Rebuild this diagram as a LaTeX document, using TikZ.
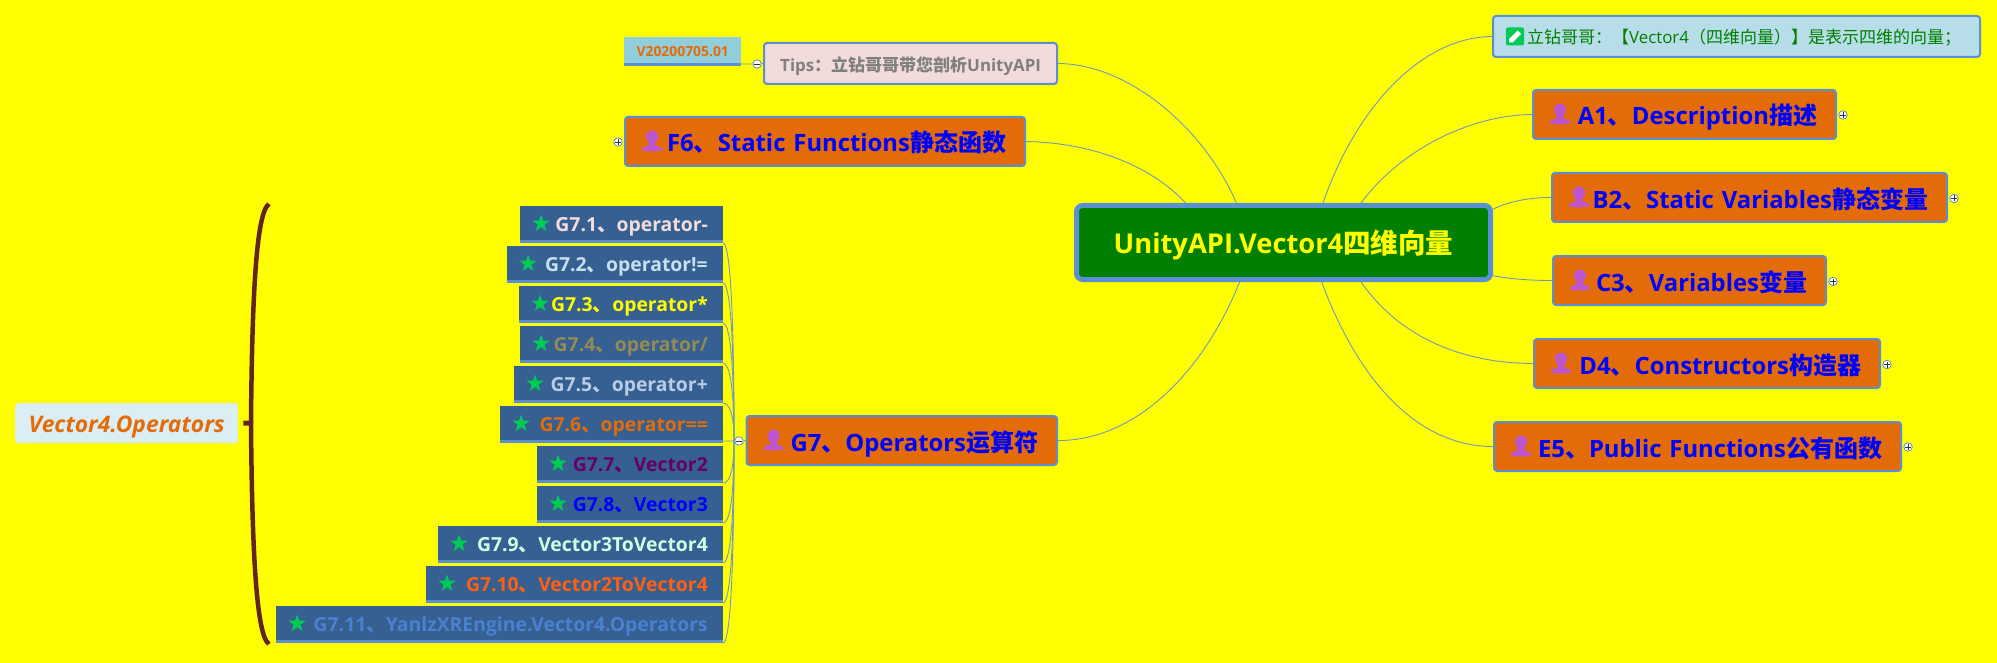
\documentclass[tikz,border=0pt]{standalone}
\usepackage{fontspec}
\setmainfont{Open Sans}[Scale=0.993]
\newfontfamily\cjk{Noto Sans CJK SC}
\usetikzlibrary{calc}
\definecolor{bgc}{HTML}{FFFF00}
\definecolor{bordc}{HTML}{5B8FD3}
\definecolor{linkc}{HTML}{6F9AC0}
\definecolor{branchc}{HTML}{E36C09}
\definecolor{itemc}{HTML}{376092}
\definecolor{starc}{HTML}{00CC55}
\definecolor{personc}{HTML}{BD55CE}
\definecolor{bracec}{HTML}{632523}
\definecolor{rootc}{HTML}{007F00}
\definecolor{tipsc}{HTML}{F2DCDB}
\definecolor{verc}{HTML}{92CDDC}
\definecolor{notec}{HTML}{B7DDE8}
\definecolor{voc}{HTML}{DAEEF3}
\definecolor{bluec}{HTML}{0000FF}
\definecolor{grayc}{HTML}{808080}
\begin{document}
\begin{tikzpicture}[x=1pt,y=-1pt]
                      \tikzstyle{link}=[linkc,line width=0.9pt]
                      \tikzstyle{branch}=[anchor=north west,draw=bordc,line width=2pt,fill=branchc,rounded corners=3pt,inner ysep=0pt,inner xsep=19pt,align=right,text height=35pt,text depth=14pt,text=bluec,font=\bfseries\fontsize{24}{28}\selectfont]
                      \tikzstyle{item}=[anchor=north east,fill=itemc,inner ysep=0pt,inner xsep=15pt,align=right,text height=25pt,text depth=11.7pt,font=\bfseries\fontsize{19.5}{24}\selectfont]
                      \tikzstyle{toggle}=[circle,draw=bordc,line width=0.8pt,fill=white,inner sep=0pt,minimum size=8.5pt]
                      \fill[bgc] (0,0) rectangle (1997,663);
                      \useasboundingbox (0,0) rectangle (1997,663);
                      \node[anchor=north west,draw=bordc,line width=5pt,fill=rootc,rounded corners=6pt,inner sep=0pt,minimum width=414pt,text height=48.5pt,text depth=25.5pt,text=bgc,font=\bfseries\fontsize{27.5}{32}\selectfont] (root) at (1074,203) {UnityAPI.Vector4{\cjk 四维向量}};
                      \node[anchor=north west,draw=bordc,line width=2pt,fill=tipsc,rounded corners=3pt,inner ysep=0pt,inner xsep=16pt,text width=261pt,align=right,text height=29pt,text depth=12pt,text=grayc,font=\bfseries\fontsize{17}{20}\selectfont] (tips) at (763,42) {Tips{\cjk ：立钻哥哥带您剖析}UnityAPI};
                      \node[anchor=north west,fill=verc,inner sep=0pt,minimum width=117pt,text height=19pt,text depth=10pt,text=branchc,font=\bfseries\fontsize{14}{16}\selectfont] (ver) at (624,37) {V20200705.01};
                      \node[anchor=north west,draw=bordc,line width=2pt,fill=notec,rounded corners=3pt,inner ysep=0pt,inner xsep=19pt,text width=449pt,align=right,text height=27.3pt,text depth=13.7pt,text=rootc,font=\fontsize{17}{20}\selectfont] (note) at (1492,15) {{\cjk 立钻哥哥：【}Vector4{\cjk （四维向量）】是表示四维的向量；}};
                      \node[branch,text width=265pt] (a) at (1532,89) {A1{\cjk 、}Description{\cjk 描述}};
                      \node[branch,text width=357pt] (b) at (1551,172) {B2{\cjk 、}Static Variables{\cjk 静态变量}};
                      \node[branch,text width=235pt] (c) at (1552,255) {C3{\cjk 、}Variables{\cjk 变量}};
                      \node[branch,text width=308pt] (d) at (1533,338) {D4{\cjk 、}Constructors{\cjk 构造器}};
                      \node[branch,text width=369pt] (e) at (1493,421) {E5{\cjk 、}Public Functions{\cjk 公有函数}};
                      \node[branch,text width=362pt] (f) at (624,116) {F6{\cjk 、}Static Functions{\cjk 静态函数}};
                      \node[branch,text width=272.5pt] (g) at (745.5,415) {G7{\cjk 、}Operators{\cjk 运算符}};
                      \node[item,text width=173pt,text={rgb,255:red,242;green,220;blue,219}] (g1) at (723,206) {G7.1{\cjk 、}operator-};
                      \node[item,text width=186pt,text={rgb,255:red,198;green,224;blue,240}] (g2) at (723,246) {G7.2{\cjk 、}operator!=};
                      \node[item,text width=174pt,text=bgc] (g3) at (723,286) {G7.3{\cjk 、}operator*};
                      \node[item,text width=173pt,text={rgb,255:red,148;green,138;blue,84}] (g4) at (723,326) {G7.4{\cjk 、}operator/};
                      \node[item,text width=179pt,text={rgb,255:red,184;green,204;blue,228}] (g5) at (723,366) {G7.5{\cjk 、}operator+};
                      \node[item,text width=193pt,text=branchc] (g6) at (723,406) {G7.6{\cjk 、}operator==};
                      \node[item,text width=156pt,text={rgb,255:red,102;green,0;blue,102}] (g7) at (723,446) {G7.7{\cjk 、}Vector2};
                      \node[item,text width=156pt,text=bluec] (g8) at (723,486) {G7.8{\cjk 、}Vector3};
                      \node[item,text width=255pt,text={rgb,255:red,204;green,255;blue,229}] (g9) at (723,526) {G7.9{\cjk 、}Vector3ToVector4};
                      \node[item,text width=267pt,text={rgb,255:red,255;green,95;blue,15}] (g10) at (723,566) {G7.10{\cjk 、}Vector2ToVector4};
                      \node[item,text width=417pt,text={rgb,255:red,74;green,128;blue,208}] (g11) at (723,606) {G7.11{\cjk 、}YanlzXREngine.Vector4.Operators};
                      \node[anchor=north west,fill=voc,rounded corners=3pt,inner sep=0pt,minimum width=223pt,text height=29.7pt,text depth=10.3pt,text=branchc,font=\bfseries\itshape\fontsize{23}{26}\selectfont] (vo) at (15,403) {Vector4.Operators};
                      \foreach \n in {a,b,c,d,e,f,g}
                        \fill[personc,shift={([xshift=28pt]\n.west)}] (0,-11) .. controls (4.5,-11) and (6.5,-7) .. (6,-4) .. controls (5.5,-1) and (3,1) .. (3,3) .. controls (3,5) and (10.5,5) .. (10.5,8) .. controls (10.5,10.5) and (-10.5,10.5) .. (-10.5,8) .. controls (-10.5,5) and (-3,5) .. (-3,3) .. controls (-3,1) and (-5.5,-1) .. (-6,-4) .. controls (-6.5,-7) and (-4.5,-11) .. (0,-11) -- cycle;
                      \foreach \n in {ver,g1,g2,g3,g4,g5,g6,g7,g8,g9,g10,g11}
                        \fill[bordc] ([yshift=3pt]\n.south west) rectangle (\n.south east);
                      \foreach \n in {g1,g2,g3,g4,g5,g6,g7,g8,g9,g10,g11}
                        \fill[starc,shift={([xshift=21.5pt,yshift=1pt]\n.west)}] (270:9) -- (306:3.6) -- (342:9) -- (18:3.6) -- (54:9) -- (90:3.6) -- (126:9) -- (162:3.6) -- (198:9) -- (234:3.6) -- cycle;
                      \fill[starc,rounded corners=2pt,shift={([xshift=23pt]note.west)}] (-9,-9) rectangle (9,9);
                      \fill[white,shift={([xshift=23pt]note.west)}] (-6,6) -- (-6,2.5) -- (2.5,-6) -- (6,-2.5) -- (-2.5,6) -- cycle;
                      \node[toggle] (tipst) at (757,64) {};
                      \node[toggle] (gt) at (739,441) {};
                      \node[toggle] (at) at (1843,115) {};
                      \node[toggle] (bt) at (1954,198.5) {};
                      \node[toggle] (ct) at (1833,281.5) {};
                      \node[toggle] (dt) at (1887,364.5) {};
                      \node[toggle] (et) at (1908,447) {};
                      \node[toggle] (ft) at (618,142) {};
                      \foreach \n in {tipst,gt,at,bt,ct,dt,et,ft}
                        \draw[black!80,line width=0.9pt] ([xshift=-3pt]\n.center) -- ([xshift=3pt]\n.center);
                      \foreach \n in {at,bt,ct,dt,et,ft}
                        \draw[black!80,line width=0.9pt] ([yshift=-3pt]\n.center) -- ([yshift=3pt]\n.center);
                      \coordinate (hub) at (734,441);
                      \coordinate (bracemid) at (251,423);
                      \draw[link] (root.158) .. controls (1155,170) and (1100,143) .. (f.east);
                      \draw[link] (root.140.8) .. controls (1205,130) and (1130,64) .. (tips.east);
                      \draw[link] (root.45) .. controls (1355,110) and (1420,37) .. (note.west);
                      \draw[link] (root.27.9) .. controls (1400,150) and (1470,115) .. (a.west);
                      \draw[link] (root.9.4) .. controls (1505,203) and (1525,197.5) .. (b.west);
                      \draw[link] (root.351.7) .. controls (1505,278) and (1525,280.5) .. (c.west);
                      \draw[link] (root.333) .. controls (1405,345) and (1475,363.5) .. (d.west);
                      \draw[link] (root.314.3) .. controls (1360,385) and (1420,446.5) .. (e.west);
                      \draw[link] (root.222) .. controls (1200,380) and (1130,441) .. (g.east);
                      \draw[link] (tips.west) -- (tipst) -- (ver.east |- tipst);
                      \draw[link] (g.west) -- (gt) -- (hub) -- (g6.east |- hub);
                      \foreach \n in {g1,g2,g3,g4,g5,g7,g8,g9,g10,g11}
                        \draw[link] (\n.south east) .. controls +(6,0) and ($(hub)!0.75!(hub |- \n.south east)$) .. (hub);
                      \draw[bracec,line width=4.5pt] (269,204) .. controls (256,212) and (252,300) .. (bracemid) .. controls (252,546) and (256,636) .. (269,644);
                      \draw[bracec,line width=5pt] ([xshift=5pt]vo.east) -- (bracemid);
\end{tikzpicture}
\end{document}
